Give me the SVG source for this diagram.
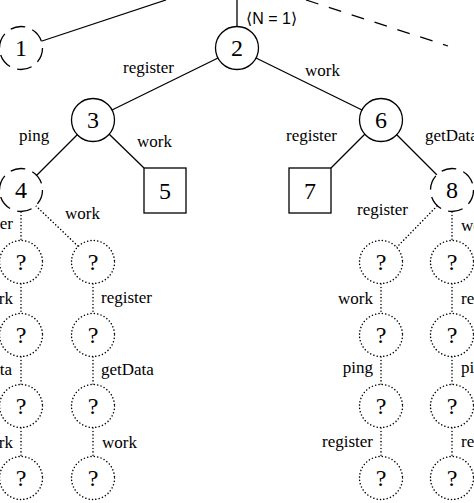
<svg xmlns="http://www.w3.org/2000/svg" width="474" height="503" viewBox="0 0 474 503">
<style>
.bg{fill:#fff}
.solid{fill:#fff;stroke:#000;stroke-width:1.3}
.dashc{fill:#fff;stroke:#000;stroke-width:1.3;stroke-dasharray:15 7.5}
.dotc{fill:#fff;stroke:#000;stroke-width:1.5;stroke-dasharray:0.1 3.3;stroke-linecap:round}
.e{stroke:#000;stroke-width:1.3;fill:none}
.ed{stroke:#000;stroke-width:1.3;fill:none;stroke-dasharray:13 11}
.eo{stroke:#000;stroke-width:1.5;fill:none;stroke-dasharray:0.1 3.3;stroke-linecap:round}
.num{font-family:"Liberation Serif","DejaVu Serif",serif;font-size:24px;text-anchor:middle;fill:#000}
.lb{font-family:"Liberation Serif","DejaVu Serif",serif;font-size:17px;fill:#000}
.end{text-anchor:end}
.sans{font-family:"Liberation Sans","DejaVu Sans",sans-serif;font-size:16px;fill:#000}
</style>
<rect class="bg" x="0" y="0" width="474" height="503"/>
<g id="connectors">
  <line class="e" x1="237" y1="0" x2="237" y2="26"/>
  <line class="e" x1="42" y1="41" x2="166" y2="0"/>
  <line class="ed" x1="306" y1="0" x2="448" y2="46"/>
  <rect x="0" y="45" width="3" height="7" fill="#000"/>
  <rect x="0" y="188" width="3" height="7" fill="#000"/>
  <line class="e" x1="218" y1="58" x2="112" y2="110"/>
  <line class="e" x1="256" y1="58" x2="362" y2="110"/>
  <line class="e" x1="78" y1="134" x2="37" y2="175"/>
  <line class="e" x1="109" y1="134" x2="144" y2="168"/>
  <line class="e" x1="365" y1="134" x2="331" y2="168"/>
  <line class="e" x1="396" y1="134" x2="438" y2="176"/>
  <line class="eo" x1="21" y1="212" x2="21" y2="241"/>
  <line class="eo" x1="36" y1="206" x2="80" y2="248"/>
  <line class="eo" x1="21" y1="284" x2="21" y2="313"/>
  <line class="eo" x1="21" y1="357" x2="21" y2="385"/>
  <line class="eo" x1="21" y1="428" x2="21" y2="457"/>
  <line class="eo" x1="93" y1="284" x2="93" y2="313"/>
  <line class="eo" x1="93" y1="357" x2="93" y2="385"/>
  <line class="eo" x1="93" y1="428" x2="93" y2="457"/>
  <line class="eo" x1="437" y1="206" x2="396" y2="248"/>
  <line class="eo" x1="452" y1="212" x2="452" y2="241"/>
  <line class="eo" x1="381" y1="284" x2="381" y2="313"/>
  <line class="eo" x1="381" y1="357" x2="381" y2="385"/>
  <line class="eo" x1="381" y1="428" x2="381" y2="457"/>
  <line class="eo" x1="452" y1="284" x2="452" y2="313"/>
  <line class="eo" x1="452" y1="357" x2="452" y2="385"/>
  <line class="eo" x1="452" y1="428" x2="452" y2="457"/>
</g>
<g id="labels">
  <text class="sans" x="246" y="24">⟨N = 1⟩</text>
  <text class="lb" x="123" y="73">register</text>
  <text class="lb" x="305" y="76">work</text>
  <text class="lb" x="19" y="141">ping</text>
  <text class="lb" x="137" y="147">work</text>
  <text class="lb" x="286" y="141">register</text>
  <text class="lb" x="425" y="141">getData</text>
  <text class="lb end" x="13" y="229">register</text>
  <text class="lb" x="65" y="219">work</text>
  <text class="lb" x="357" y="215">register</text>
  <text class="lb" x="461" y="231">work</text>
  <text class="lb end" x="13" y="304">work</text>
  <text class="lb end" x="12" y="375">getData</text>
  <text class="lb end" x="13" y="448">work</text>
  <text class="lb" x="101" y="303">register</text>
  <text class="lb" x="101" y="375">getData</text>
  <text class="lb" x="102" y="448">work</text>
  <text class="lb end" x="373" y="304">work</text>
  <text class="lb end" x="373" y="373">ping</text>
  <text class="lb end" x="373" y="447">register</text>
  <text class="lb" x="461" y="304">register</text>
  <text class="lb" x="461" y="373">ping</text>
  <text class="lb" x="461" y="447">register</text>
</g>
<g id="n1"><circle class="dashc" cx="21" cy="48" r="21.5"/><text class="num" x="21" y="56">1</text></g>
<g id="n2"><circle class="solid" cx="237" cy="48" r="21.5"/><text class="num" x="237" y="56">2</text></g>
<g id="n3"><circle class="solid" cx="93" cy="120" r="21.5"/><text class="num" x="93" y="128">3</text></g>
<g id="n6"><circle class="solid" cx="381" cy="120" r="21.5"/><text class="num" x="381" y="128">6</text></g>
<g id="n4"><circle class="dashc" cx="21" cy="190" r="21.5"/><text class="num" x="21" y="198">4</text></g>
<g id="n5"><rect class="solid" x="144" y="168" width="42" height="45"/><text class="num" x="165" y="199">5</text></g>
<g id="n7"><rect class="solid" x="289" y="168" width="42" height="45"/><text class="num" x="310" y="199">7</text></g>
<g id="n8"><circle class="dashc" cx="452" cy="190" r="21.5"/><text class="num" x="452" y="198">8</text></g>
<g id="q-a1"><circle class="dotc" cx="21" cy="262" r="21.5"/><text class="num" x="21" y="270">?</text></g>
<g id="q-a2"><circle class="dotc" cx="21" cy="335" r="21.5"/><text class="num" x="21" y="343">?</text></g>
<g id="q-a3"><circle class="dotc" cx="21" cy="406" r="21.5"/><text class="num" x="21" y="414">?</text></g>
<g id="q-a4"><circle class="dotc" cx="21" cy="478" r="21.5"/><text class="num" x="21" y="486">?</text></g>
<g id="q-b1"><circle class="dotc" cx="93" cy="262" r="21.5"/><text class="num" x="93" y="270">?</text></g>
<g id="q-b2"><circle class="dotc" cx="93" cy="335" r="21.5"/><text class="num" x="93" y="343">?</text></g>
<g id="q-b3"><circle class="dotc" cx="93" cy="406" r="21.5"/><text class="num" x="93" y="414">?</text></g>
<g id="q-b4"><circle class="dotc" cx="93" cy="478" r="21.5"/><text class="num" x="93" y="486">?</text></g>
<g id="q-c1"><circle class="dotc" cx="381" cy="262" r="21.5"/><text class="num" x="381" y="270">?</text></g>
<g id="q-c2"><circle class="dotc" cx="381" cy="335" r="21.5"/><text class="num" x="381" y="343">?</text></g>
<g id="q-c3"><circle class="dotc" cx="381" cy="406" r="21.5"/><text class="num" x="381" y="414">?</text></g>
<g id="q-c4"><circle class="dotc" cx="381" cy="478" r="21.5"/><text class="num" x="381" y="486">?</text></g>
<g id="q-d1"><circle class="dotc" cx="452" cy="262" r="21.5"/><text class="num" x="452" y="270">?</text></g>
<g id="q-d2"><circle class="dotc" cx="452" cy="335" r="21.5"/><text class="num" x="452" y="343">?</text></g>
<g id="q-d3"><circle class="dotc" cx="452" cy="406" r="21.5"/><text class="num" x="452" y="414">?</text></g>
<g id="q-d4"><circle class="dotc" cx="452" cy="478" r="21.5"/><text class="num" x="452" y="486">?</text></g>
</svg>
